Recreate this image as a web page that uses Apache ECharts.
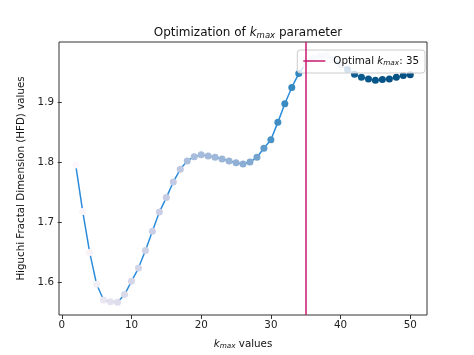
<!DOCTYPE html>
<html>
<head>
<meta charset="utf-8">
<script src="https://cdn.jsdelivr.net/npm/echarts@6/dist/echarts.min.js"></script>
<style>html,body{margin:0;padding:0;background:#fff}#c{width:474px;height:355px}</style>
</head>
<body>
<div id="c"></div>
<script>
// k_max values tested
const kValues = [2,3,4,5,6,7,8,9,10,11,12,13,14,15,16,17,18,19,20,21,22,23,24,25,26,27,28,29,30,31,32,33,34,35,36,37,38,39,40,41,42,43,44,45,46,47,48,49,50];
// HFD values for each k_max
const hfdValues = [1.795,1.718,1.650,1.597,1.571,1.568,1.567,1.580,1.602,1.624,1.653,1.685,1.717,1.741,1.767,1.788,1.802,1.809,1.812,1.810,1.808,1.805,1.802,1.799,1.797,1.800,1.808,1.823,1.837,1.866,1.897,1.924,1.947,1.963,1.973,1.976,1.977,1.971,1.961,1.954,1.946,1.941,1.938,1.936,1.937,1.938,1.941,1.944,1.945];
// optimal k_max
const optimalK = 35;
// tick labels
const xTicks = [0,10,20,30,40,50];
const yTicks = [1.6,1.7,1.8,1.9];
// marker colours (style, per point)
const pointColors = ['#fdf6fa','#fbf4f8','#f8f2f7','#f2eef5','#e9e5f1','#e4e1ef','#dfdded','#dadaeb','#d6d6e9','#d2d4e8','#cfd2e7','#ccd0e6','#c9cee5','#c6cce4','#c3cae3','#bfc8e2','#abbfdd','#a8bddb','#a5bbda','#a2b9d9','#9fb7d8','#9bb5d7','#97b3d6','#92b0d5','#8cadd3','#82aad1','#74a3ce','#5f9bca','#4a93c6','#3f8dc3','#3a8bc1','#3689c0','#3487be','#dbe1ee','#d8def0','#dbe0ef','#dde2ef','#d6dcec','#c8d2e7','#2f6ea6','#0f5d93','#0a5a8e','#07578b','#065588','#065487','#055386','#055285','#045184','#045083'];

const data = kValues.map((k, i) => ({ value: [k, hfdValues[i]], itemStyle: { color: pointColors[i] } }));

const font = 'DejaVu Sans';
const kRich = {
  n: { fontFamily: font, fontSize: 12, fontWeight: 'normal', color: '#111' },
  i: { fontFamily: font, fontSize: 12, fontWeight: 'normal', fontStyle: 'italic', color: '#111' },
  s: { fontFamily: font, fontSize: 8.5, fontWeight: 'normal', fontStyle: 'italic', color: '#111', padding: [6, 0, 0, 0] }
};
const kRichSmall = {
  n: { fontFamily: font, fontSize: 10.3, color: '#111' },
  i: { fontFamily: font, fontSize: 10.3, fontStyle: 'italic', color: '#111' },
  s: { fontFamily: font, fontSize: 7.3, fontStyle: 'italic', color: '#111', padding: [5, 0, 0, 0] }
};

const chart = echarts.init(document.getElementById('c'), null, { renderer: 'canvas' });
chart.setOption({
  animation: false,
  backgroundColor: '#fff',
  title: {
    text: '{n|Optimization of }{i|k}{s|max}{n| parameter}',
    left: 243, textAlign: 'center', top: 20,
    textStyle: { fontWeight: 'normal', rich: kRich }
  },
  legend: {
    data: ['Optimal'],
    right: 49, top: 50,
    icon: 'rect', itemWidth: 22, itemHeight: 1.5, itemGap: 5,
    padding: [6, 6, 6, 6],
    backgroundColor: 'rgba(255,255,255,0.8)',
    borderColor: '#cccccc', borderWidth: 1, borderRadius: 3,
    formatter: () => '{n|Optimal }{i|k}{s|max}{n|: ' + optimalK + '}',
    textStyle: { rich: kRichSmall, padding: [0, 0, 0, 3] }
  },
  grid: { left: 59, right: 47, top: 42, bottom: 40, show: true, borderColor: '#333', borderWidth: 1, backgroundColor: 'transparent' },
  xAxis: {
    type: 'value', min: -0.4, max: 52.4,
    axisLine: { show: false },
    axisTick: { show: true, inside: false, length: 4, customValues: xTicks, lineStyle: { color: '#333' } },
    axisLabel: { customValues: xTicks, fontFamily: font, fontSize: 10.3, color: '#222', margin: 5 },
    splitLine: { show: false },
    name: '{i|k}{s|max}{n| values}', nameLocation: 'middle', nameGap: 23,
    nameTextStyle: { rich: kRichSmall }
  },
  yAxis: {
    type: 'value', min: 1.546, max: 1.9995,
    axisLine: { show: false },
    axisTick: { show: true, inside: false, length: 4, customValues: yTicks, lineStyle: { color: '#333' } },
    axisLabel: { customValues: yTicks, formatter: v => v.toFixed(1), fontFamily: font, fontSize: 10.3, color: '#222', margin: 5 },
    splitLine: { show: false },
    name: 'Higuchi Fractal Dimension (HFD) values', nameLocation: 'middle', nameGap: 31,
    nameTextStyle: { fontFamily: font, fontSize: 10.3, color: '#111' }
  },
  series: [
    {
      name: 'HFD', type: 'line', data: data,
      symbol: 'circle', symbolSize: 7,
      lineStyle: { color: '#2b8cdc', width: 1.5 },
      itemStyle: { borderWidth: 0 },
      z: 2
    },
    {
      name: 'Optimal', type: 'line', data: [],
      itemStyle: { color: '#c71a6e' },
      lineStyle: { color: '#c71a6e' },
      markLine: {
        silent: true, symbol: 'none', animation: false,
        label: { show: false },
        lineStyle: { color: '#c71a6e', width: 1.5, type: 'solid' },
        data: [{ xAxis: optimalK }]
      },
      z: 1
    }
  ]
});
</script>
</body>
</html>
